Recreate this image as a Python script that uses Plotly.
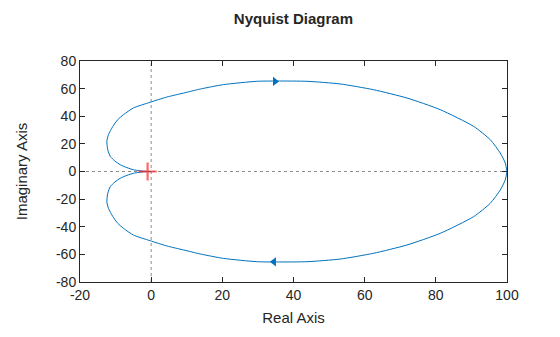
import plotly.graph_objects as go

# Lower (negative-imaginary) branch, from omega=0 to infinity
lower_re = [100, 99.5, 98.1, 95.3, 90.6, 81.2, 71.9, 62.5, 53.1, 43.8, 35.3, 29.7,
            20.3, 13.8, 9.1, 4.4, -0.3, -5.0, -7.8, -9.4, -10.8, -12.0, -12.45, -12.2,
            -11.5, -10.2, -8.7, -6.8, -5.0, -3.4, -2.2, -1.0, 0]
lower_im = [0, -6.2, -13.4, -23.0, -32.7, -44.8, -53.2, -59.2, -63.4, -65.3, -65.5,
            -65.3, -62.9, -59.7, -56.8, -53.9, -50.1, -46.0, -41.1, -37.5, -32.5, -26.7,
            -21.9, -15.8, -11.0, -7.6, -4.9, -2.8, -1.3, -0.6, -0.25, -0.05, 0]

# Upper branch is the mirror image (negative frequencies), drawn from origin to 100
upper_re = lower_re[::-1]
upper_im = [-v for v in lower_im[::-1]]

# Direction arrows
arrow_up_re, arrow_up_im = [34.8], [65.2]
arrow_lo_re, arrow_lo_im = [34.5], [-65.4]

# Critical point
crit_re, crit_im = [-1], [0]

x_ticks = [-20, 0, 20, 40, 60, 80, 100]
x_tick_text = ["-20", "0", "20", "40", "60", "80", "100"]
y_ticks = [-80, -60, -40, -20, 0, 20, 40, 60, 80]
y_tick_text = ["-80", "-60", "-40", "-20", "0", "20", "40", "60", "80"]

blue = "#0072BD"
fig = go.Figure()
fig.add_trace(go.Scatter(x=upper_re, y=upper_im, mode="lines",
                         line=dict(color=blue, width=1, shape="spline", smoothing=0.6),
                         hoverinfo="skip"))
fig.add_trace(go.Scatter(x=lower_re, y=lower_im, mode="lines",
                         line=dict(color=blue, width=1, shape="spline", smoothing=0.6),
                         hoverinfo="skip"))
fig.add_trace(go.Scatter(x=arrow_up_re, y=arrow_up_im, mode="markers",
                         marker=dict(symbol="triangle-right", size=8, color=blue)))
fig.add_trace(go.Scatter(x=arrow_lo_re, y=arrow_lo_im, mode="markers",
                         marker=dict(symbol="triangle-left", size=8, color=blue)))
fig.add_trace(go.Scatter(x=crit_re, y=crit_im, mode="markers",
                         marker=dict(symbol="cross-thin", size=13,
                                     line=dict(color="rgba(255,40,40,0.7)", width=2.2))))

fig.add_shape(type="line", xref="x", yref="paper", x0=0, x1=0, y0=0, y1=1,
              line=dict(color="#8c8c8c", width=1, dash="dot"), layer="below")
fig.add_shape(type="line", xref="paper", yref="y", x0=0, x1=1, y0=0, y1=0,
              line=dict(color="#8c8c8c", width=1, dash="dot"), layer="below")

axis_common = dict(showgrid=False, zeroline=False, showline=True, mirror="ticks",
                   linecolor="#262626", linewidth=1, ticks="inside", ticklen=5,
                   tickcolor="#262626", tickfont=dict(size=14, color="#262626"))

fig.update_layout(
    width=560, height=337,
    margin=dict(l=80, r=53, t=61, b=55),
    paper_bgcolor="white", plot_bgcolor="white",
    font=dict(family="Liberation Sans, Arial, sans-serif", color="#262626"),
    showlegend=False,
    title=dict(text="<b>Nyquist Diagram</b>", x=0.524, xanchor="center",
               y=0.944, yanchor="middle", yref="container",
               font=dict(size=15, color="#262626")),
    xaxis=dict(range=[-20, 100], tickvals=x_ticks, ticktext=x_tick_text,
               title=dict(text="Real Axis", font=dict(size=15), standoff=10),
               **axis_common),
    yaxis=dict(range=[-80, 80], tickvals=y_ticks, ticktext=y_tick_text,
               title=dict(text="Imaginary Axis", font=dict(size=15), standoff=24),
               **axis_common),
)

fig.write_html("out.html")
